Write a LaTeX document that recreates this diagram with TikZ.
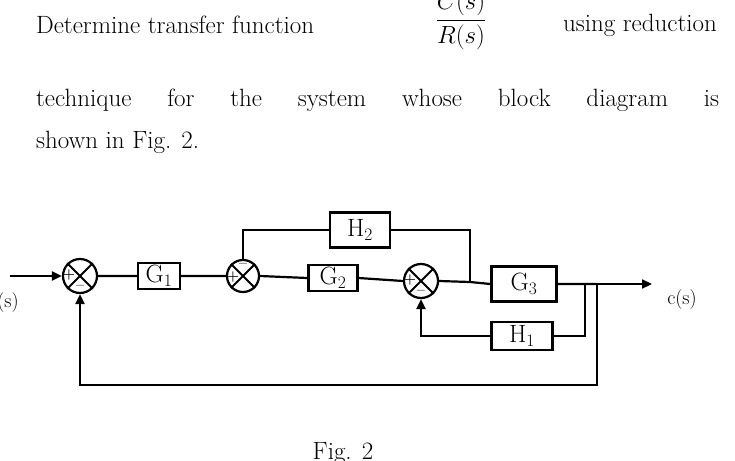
\documentclass[tikz,border=0pt]{standalone}
\usepackage{fontspec}
\usetikzlibrary{arrows.meta,calc}
\begin{document}
\begin{tikzpicture}[x=1pt,y=-1pt,line width=2.2pt,
  blk/.style={draw,minimum width=#1,minimum height=26pt,inner sep=0pt,font=\fontsize{25}{25}\selectfont},
  sumj/.style={draw,circle,minimum size=34pt,inner sep=0pt},
  sg/.style={font=\fontsize{14}{14}\selectfont\bfseries,inner sep=0pt},
  arr/.style={-{Triangle[length=10pt,width=9pt]}},
  txt/.style={font=\fontsize{25}{30}\selectfont,inner sep=0pt,anchor=west}]
\useasboundingbox[fill=white] (0,0) rectangle (735,460);
\node[txt] (t1) at (35,25) {Determine transfer function};
\node[txt,anchor=center] (fr) at (461,20) {$\displaystyle\frac{C(s)}{R(s)}$};
\node[txt,anchor=east] (t2) at (718,25) {using reduction};
\node[txt] (t3) at (35,100) {\hbox to 683pt{technique\hfill for\hfill the\hfill system\hfill whose\hfill block\hfill diagram\hfill is}};
\node[txt] (t4) at (35,142) {shown in Fig. 2.};
\node[txt,anchor=center] (fig) at (343,454) {Fig. 2};
% blocks
\node[sumj] (s1) at (80,276) {};
\node[sumj,minimum size=32pt] (s2) at (243,276) {};
\node[sumj] (s3) at (421,281) {};
\foreach \s in {s1,s2,s3}{\draw[line width=1.8pt] (\s.north east)--(\s.south west) (\s.north west)--(\s.south east);}
\node[sg] at ($(s1)+(-11,-1)$) {+};
\node[sg] at ($(s1)+(0,11)$) {–};
\node[sg] at ($(s2)+(0,-11)$) {–};
\node[sg] at ($(s2)+(-10,1)$) {+};
\node[sg] at ($(s3)+(-11,-1)$) {+};
\node[sg] at ($(s3)+(0,11)$) {–};
\node[blk=42pt] (g1) at (159,276) {G\textsubscript{1}};
\node[blk=49pt] (g2) at (333,278) {G\textsubscript{2}};
\node[blk=65pt,minimum height=35pt] (g3) at (524,284) {G\textsubscript{3}};
\node[blk=61pt,minimum height=28pt] (h1) at (522,336) {H\textsubscript{1}};
\node[blk=60pt,minimum height=35pt] (h2) at (360,230) {H\textsubscript{2}};
\coordinate (in) at (10,276);
\coordinate (out) at (652,284);
\coordinate (ta) at (470,282);
\coordinate (tb) at (585,284);
\coordinate (tc) at (597,284);
\coordinate (fb) at (597,385);
\node[font=\fontsize{20}{20}\selectfont,inner sep=0pt] (rs) at (8,303) {(s)};
\node[font=\fontsize{20}{20}\selectfont,inner sep=0pt] (cs) at (682,300) {c(s)};
\draw[arr] (in) -- (s1.west);
\draw (s1.east) -- (g1.west) (g1.east) -- (s2.west) (s2.east) -- (g2.west) (g2.east) -- (s3.west);
\draw (s3.east) -- (ta) -- (g3.west) (g3.east) -- (tc);
\draw[arr] (tc) -- (out);
\draw (s2.north) |- (h2.west) (h2.east) -| (ta);
\draw (tb) |- (h1.east);
\draw[arr] (h1.west) -| (s3.south);
\draw[arr] (tc) -- (fb) -| (s1.south);
\end{tikzpicture}
\end{document}
